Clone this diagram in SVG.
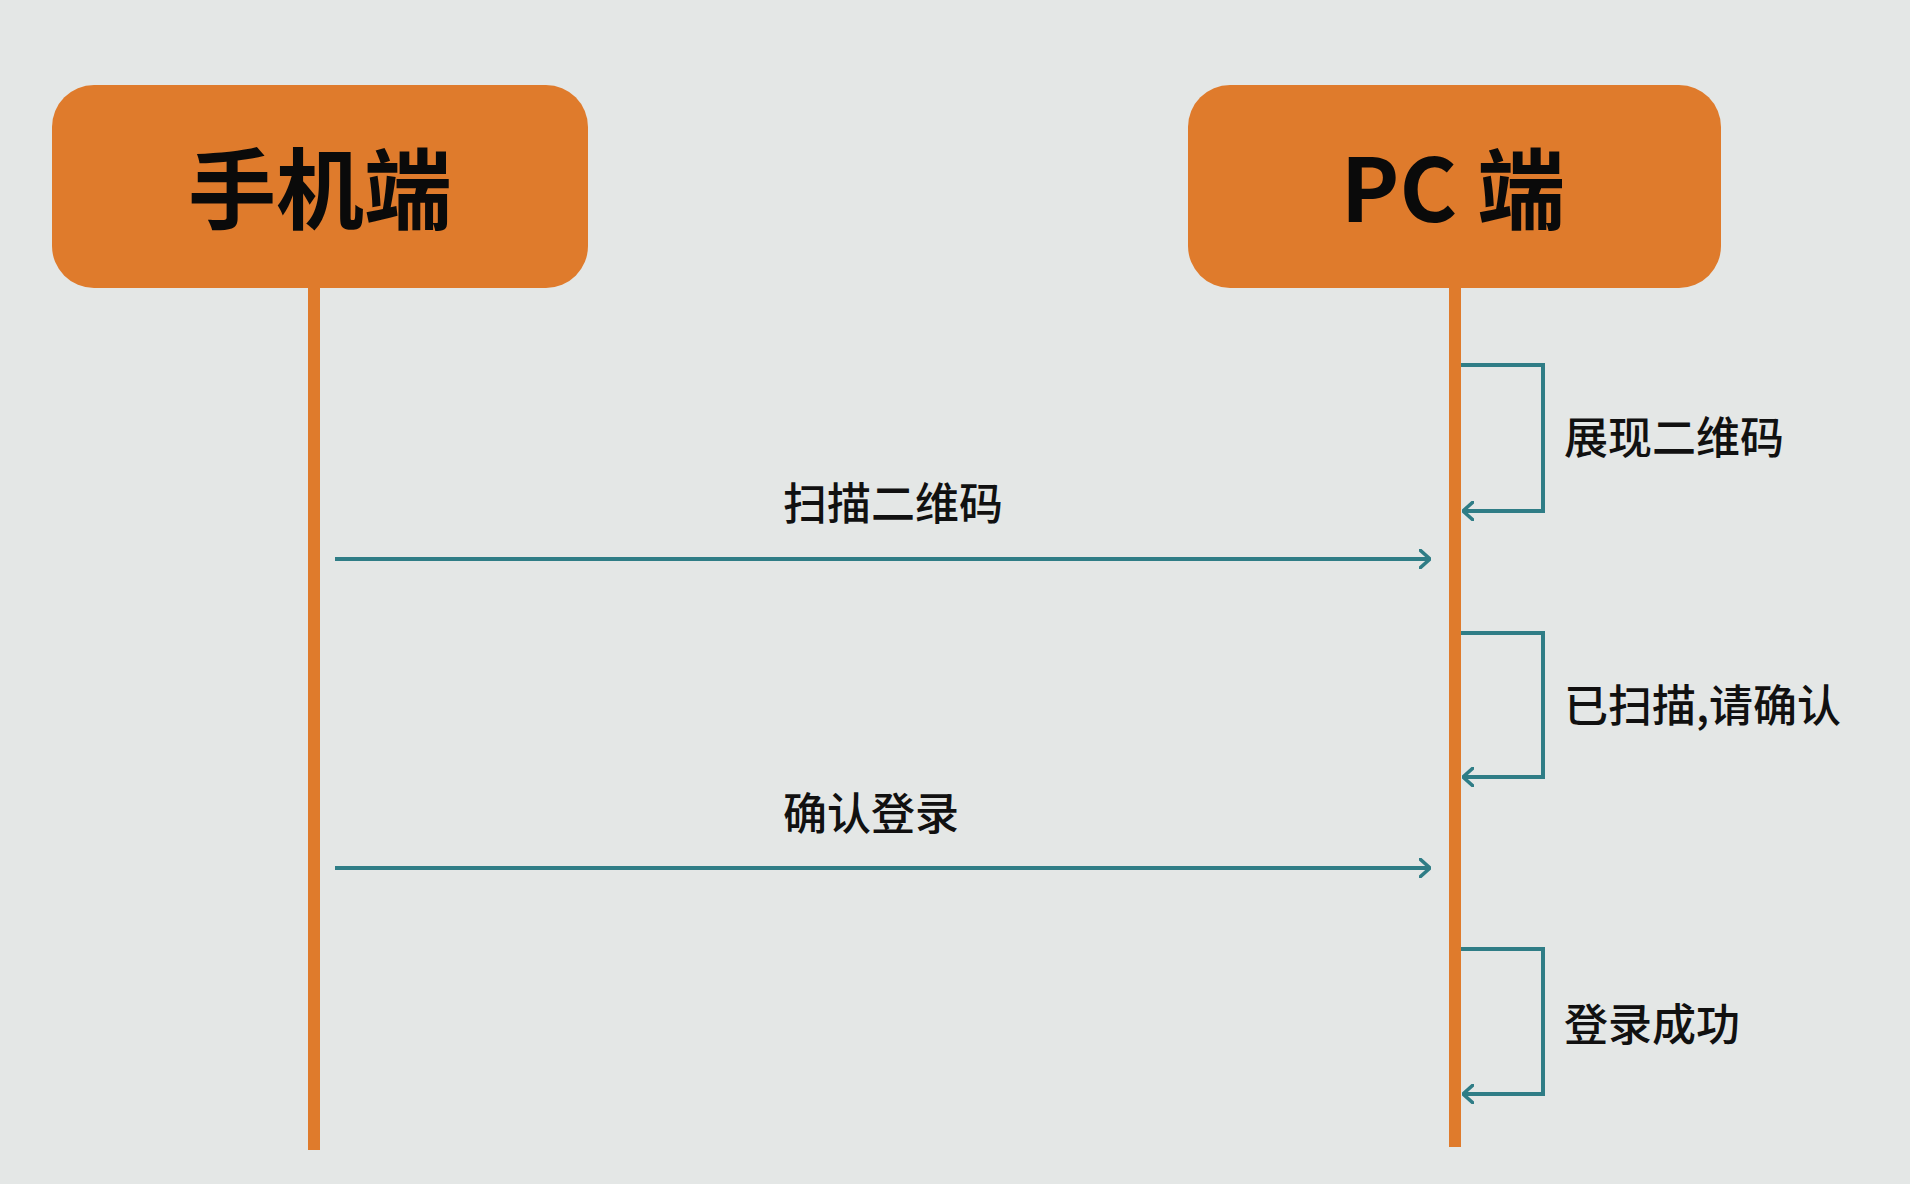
<svg xmlns="http://www.w3.org/2000/svg" width="1910" height="1184" viewBox="0 0 1910 1184">
<defs>
<style>
.box{fill:#df7b2c}
.title{font-family:"Noto Sans CJK SC","Noto Sans",sans-serif;font-weight:700;font-size:88px;fill:#0a0a0a;text-anchor:middle}
.life{stroke:#df7b2c;stroke-width:12;fill:none}
.msg{stroke:#2f7d86;stroke-width:4;fill:none}
.lbl{font-family:"Noto Sans CJK SC","Noto Sans",sans-serif;font-size:44px;font-weight:500;fill:#111}
</style>
<marker id="ah" viewBox="0 0 12 20" refX="11" refY="10" markerWidth="12" markerHeight="20" markerUnits="userSpaceOnUse" orient="auto">
<path d="M1 1 L11 10 L1 19" fill="none" stroke="#2f7d86" stroke-width="3.5" stroke-linecap="round"/>
</marker>
</defs>
<rect width="1910" height="1184" fill="#e4e7e6"/>
<g id="lifelines">
<line class="life" x1="314" y1="286" x2="314" y2="1150"/>
<line class="life" x1="1455" y1="286" x2="1455" y2="1147"/>
</g>
<g id="node-mobile">
<rect class="box" x="52" y="85" width="536" height="203" rx="42"/>
<text class="title" x="320" y="222">手机端</text>
</g>
<g id="node-pc">
<rect class="box" x="1188" y="85" width="533" height="203" rx="42"/>
<text class="title" x="1453" y="222">PC 端</text>
</g>
<g id="connectors">
<line class="msg" x1="335" y1="559" x2="1430" y2="559" marker-end="url(#ah)"/>
<line class="msg" x1="335" y1="868" x2="1430" y2="868" marker-end="url(#ah)"/>
<polyline class="msg" points="1461,365 1543,365 1543,511 1463,511" marker-end="url(#ah)"/>
<polyline class="msg" points="1461,633 1543,633 1543,777 1463,777" marker-end="url(#ah)"/>
<polyline class="msg" points="1461,949 1543,949 1543,1094 1463,1094" marker-end="url(#ah)"/>
</g>
<g id="labels">
<text class="lbl" x="783" y="520">扫描二维码</text>
<text class="lbl" x="783" y="830">确认登录</text>
<text class="lbl" x="1564" y="454">展现二维码</text>
<text class="lbl" x="1564" y="722">已扫描,请确认</text>
<text class="lbl" x="1564" y="1041">登录成功</text>
</g>
</svg>
